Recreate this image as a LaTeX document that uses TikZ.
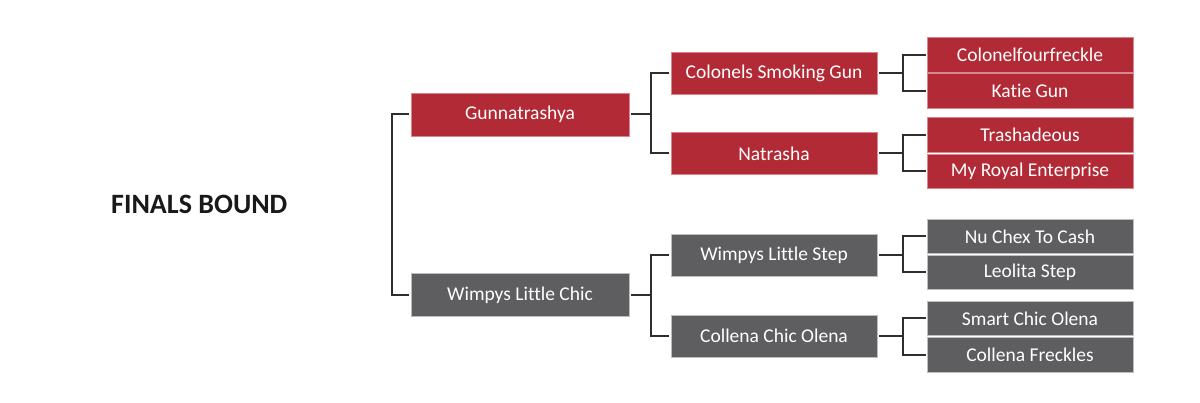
\documentclass[tikz,border=0pt]{standalone}
\usepackage{fontspec}
\setmainfont{Carlito}[Ligatures=NoCommon]
\usetikzlibrary{positioning}
\definecolor{hred}{HTML}{B22A35}
\definecolor{hredb}{HTML}{D9868C}
\definecolor{hgray}{HTML}{5E5E60}
\definecolor{hgrayb}{HTML}{BDBDBF}
\definecolor{hline}{HTML}{2E2E2E}
\begin{document}
\begin{tikzpicture}[x=1pt,y=-1pt,
  horse/.style={minimum width=218pt,minimum height=43pt,inner sep=0pt,outer sep=2pt,
    text=white,font=\fontsize{19.5}{22}\selectfont,line width=0.8pt},
  redbox/.style={horse,fill=hred,draw=hredb},
  graybox/.style={horse,fill=hgray,draw=hgrayb},
  lvtwo/.style={minimum width=206pt,minimum height=42pt},
  lvthree/.style={minimum width=206pt,minimum height=34.5pt,outer sep=1pt},
  link/.style={draw=hline,line width=2pt}]
\useasboundingbox (0,0) rectangle (1200,403);
\fill[white] (0,0) rectangle (1200,403);

\node[anchor=west,font=\bfseries\fontsize{28}{32}\selectfont,text=black!90,inner sep=0pt] (title) at (111,204.5) {FINALS BOUND};

% level 1
\node[redbox] (g) at (520,114.5) {Gunnatrashya};
\node[graybox] (w) at (520,295) {Wimpys Little Chic};

% level 2
\node[redbox,lvtwo] (cs) at (774,73) {Colonels Smoking Gun};
\node[redbox,lvtwo] (na) at (774,153.5) {Natrasha};
\node[graybox,lvtwo] (ws) at (774,255.5) {Wimpys Little Step};
\node[graybox,lvtwo] (cc) at (774,336) {Collena Chic Olena};

% level 3
\node[redbox,lvthree] (cf) at (1030,55) {Colonelfourfreckle};
\node[redbox,lvthree] (kg) at (1030,91) {Katie Gun};
\node[redbox,lvthree] (tr) at (1030,135) {Trashadeous};
\node[redbox,lvthree] (mr) at (1030,171.5) {My Royal Enterprise};
\node[graybox,lvthree] (nc) at (1030,236.5) {Nu Chex To Cash};
\node[graybox,lvthree] (ls) at (1030,272.5) {Leolita Step};
\node[graybox,lvthree] (sc) at (1030,318.5) {Smart Chic Olena};
\node[graybox,lvthree] (cfr) at (1030,355) {Collena Freckles};

% connectors
\path[link] (g.west) -- ++(-17,0) |- (w.west);
\path[link] (g.east) -- ++(20,0) |- (cs.west);
\path[link] (g.east) -- ++(20,0) |- (na.west);
\path[link] (w.east) -- ++(20,0) |- (ws.west);
\path[link] (w.east) -- ++(20,0) |- (cc.west);
\path[link] (cs.east) -- ++(24,0) |- (cf.west);
\path[link] (cs.east) -- ++(24,0) |- (kg.west);
\path[link] (na.east) -- ++(24,0) |- (tr.west);
\path[link] (na.east) -- ++(24,0) |- (mr.west);
\path[link] (ws.east) -- ++(24,0) |- (nc.west);
\path[link] (ws.east) -- ++(24,0) |- (ls.west);
\path[link] (cc.east) -- ++(24,0) |- (sc.west);
\path[link] (cc.east) -- ++(24,0) |- (cfr.west);
\end{tikzpicture}
\end{document}
